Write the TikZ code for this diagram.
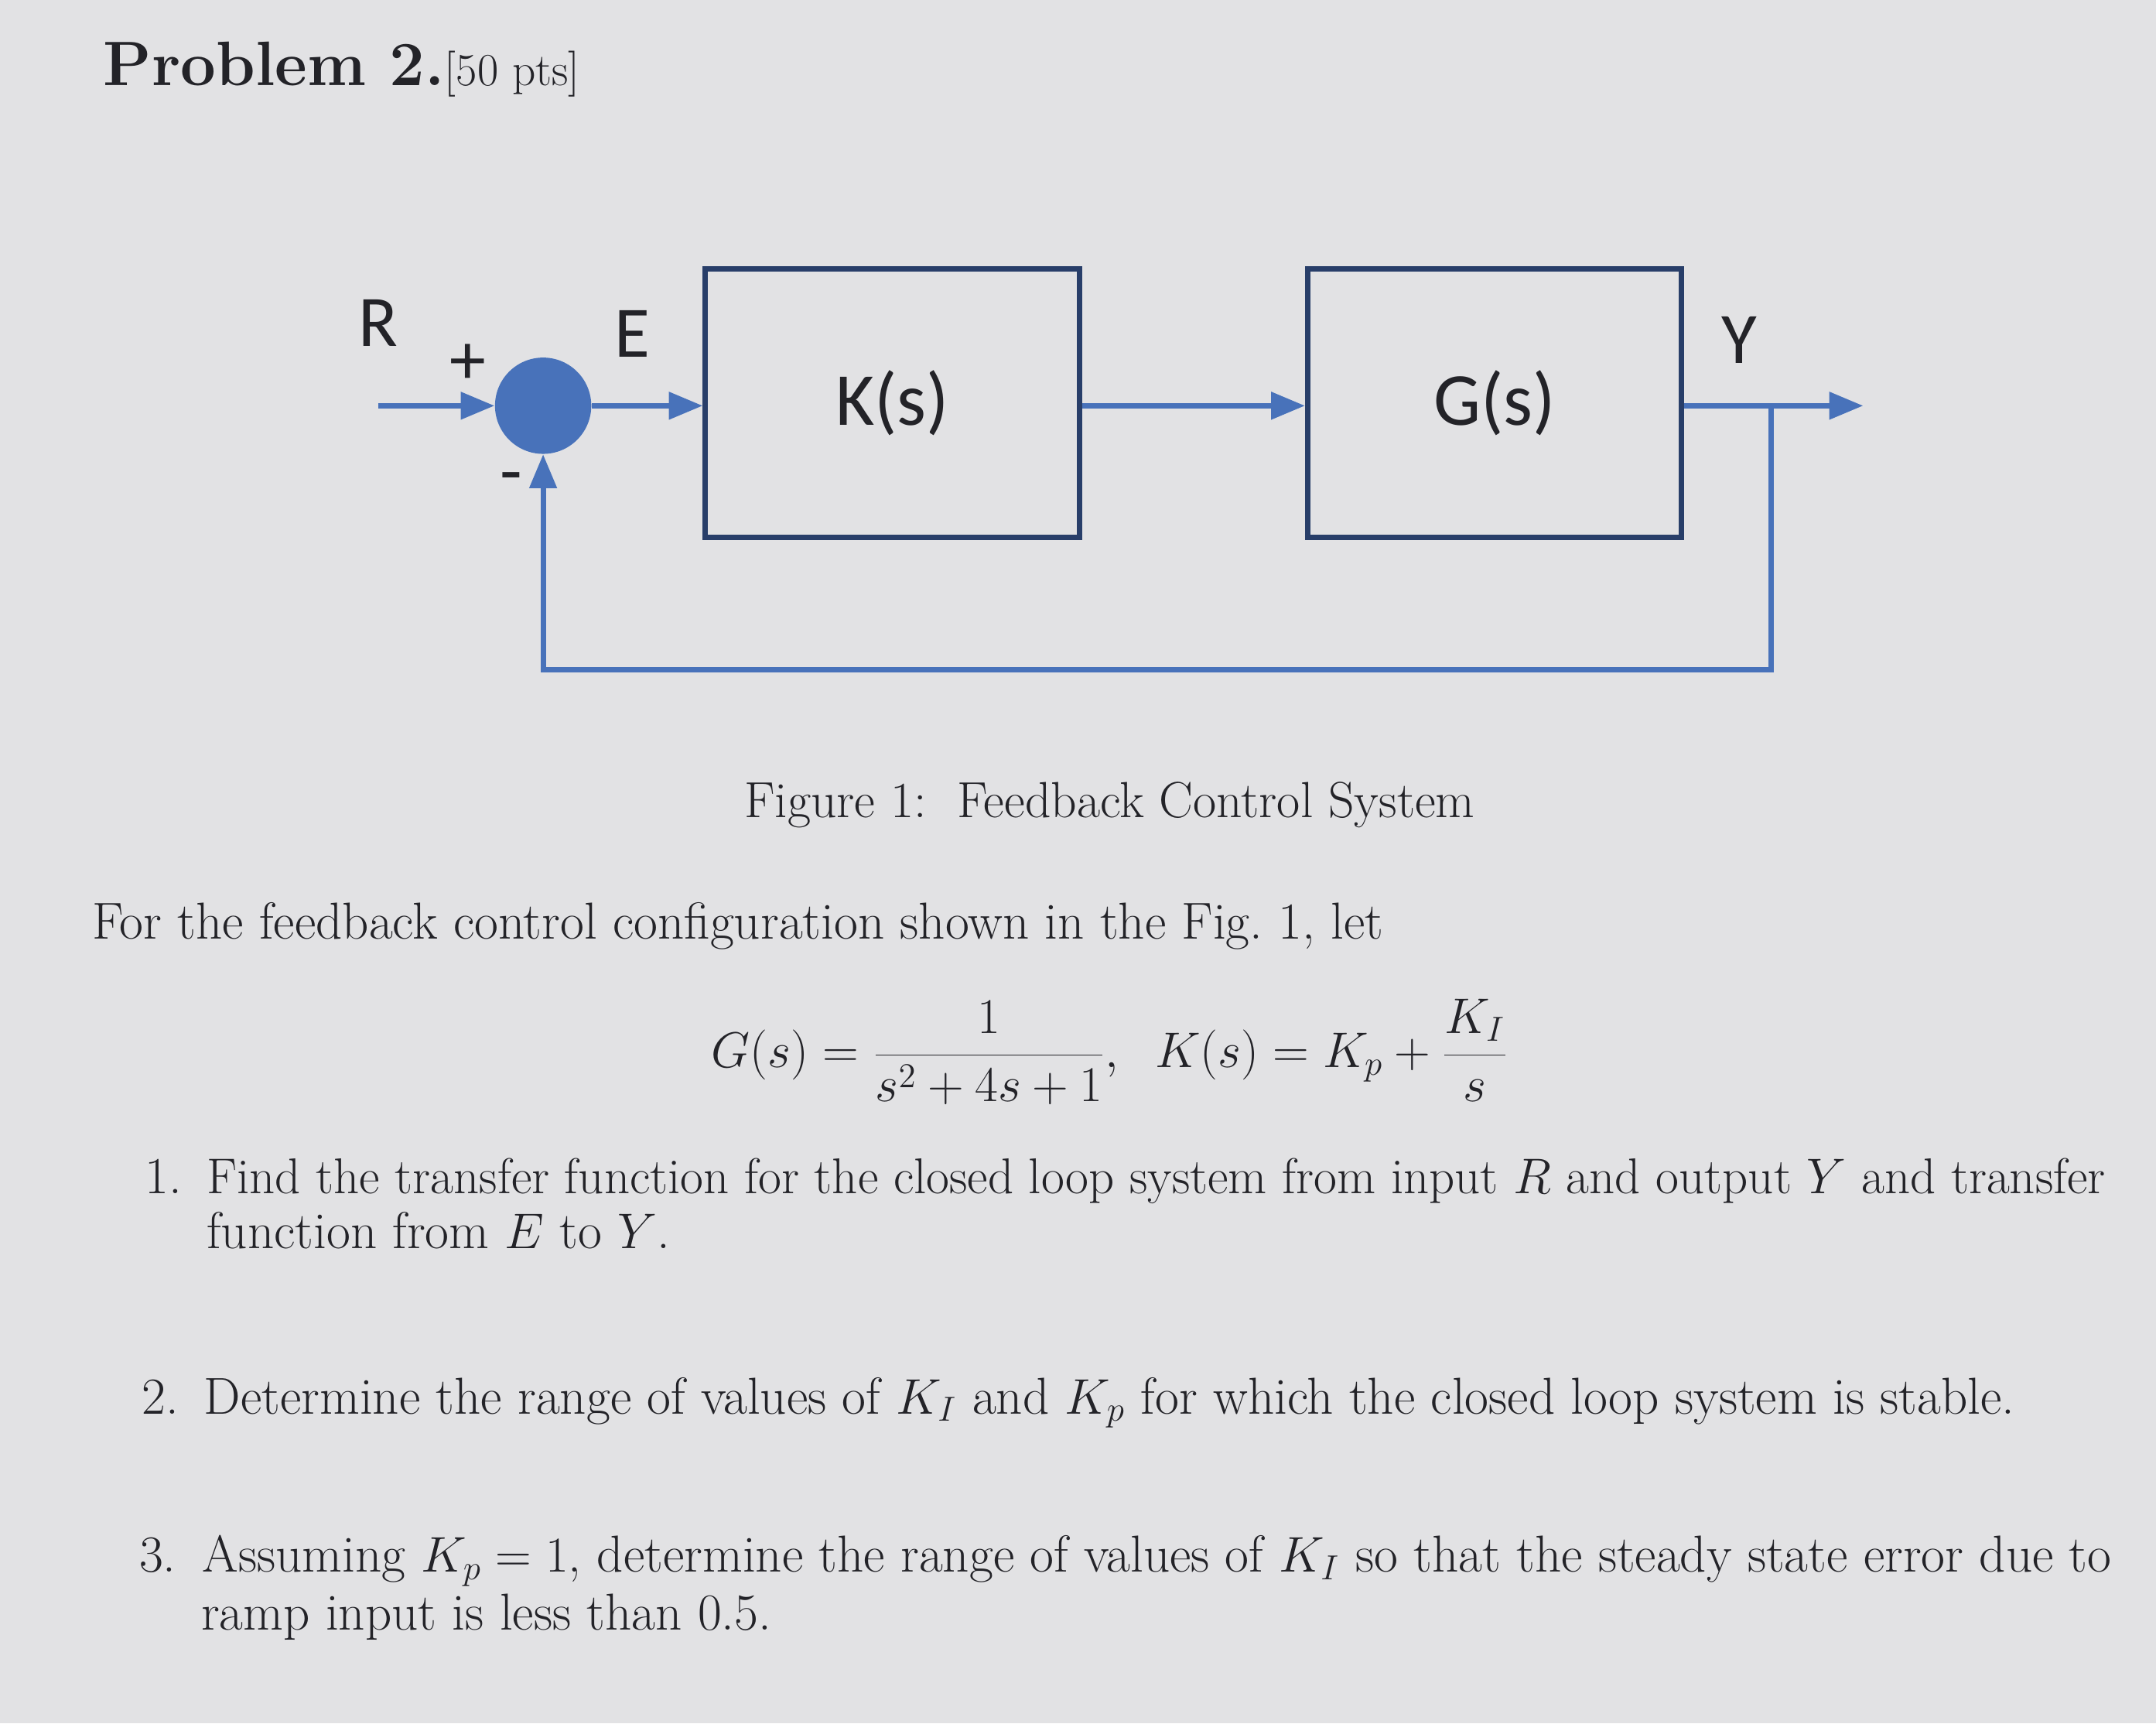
\documentclass[tikz,border=0pt]{standalone}
\usepackage{fontspec}
\newfontfamily\diag{Carlito}
\usetikzlibrary{arrows.meta}
\definecolor{paper}{RGB}{226,226,228}
\definecolor{lineblue}{RGB}{72,114,186}
\definecolor{boxc}{RGB}{40,62,105}
\definecolor{ink}{RGB}{35,35,40}
\begin{document}
\begin{tikzpicture}[x=0.02cm,y=-0.02cm,
  wire/.style={lineblue,line width=2.2pt},
  arr/.style={wire,-{Triangle[length=14pt,width=11pt]}},
  blk/.style={draw=boxc,line width=2.2pt,minimum width=272*0.02cm,minimum height=195*0.02cm,font=\diag\fontsize{31}{36}\selectfont,text=ink},
  lab/.style={font=\diag\fontsize{30}{34}\selectfont,text=ink},
  body/.style={font=\fontsize{21.5}{25}\selectfont,text=ink,anchor=base west,inner sep=0}]
\fill[paper] (0,0) rectangle (1568,1253);
\useasboundingbox (0,0) rectangle (1568,1253);
\node[anchor=base west,inner sep=0,text=ink] (title) at (75,62) {\fontsize{26}{30}\selectfont\bfseries Problem 2.\mdseries\fontsize{19}{22}\selectfont[50 pts]};
\coordinate (rin) at (275,295);
\node[circle,fill=lineblue,minimum size=70*0.02cm,inner sep=0] (sum) at (395,295) {};
\node[blk] (K) at (649,293) {K(s)};
\node[blk] (G) at (1087,293) {G(s)};
\coordinate (yout) at (1355,295);
\coordinate (tap) at (1288,295);
\coordinate (fr) at (1288,487);
\coordinate (fl) at (395,487);
\draw[arr] (rin) -- (sum);
\draw[arr] (sum) -- (K.west|-sum);
\draw[arr] (K.east|-sum) -- (G.west|-sum);
\draw[arr] (G.east|-sum) -- (yout);
\draw[arr] (tap) -- (fr) -- (fl) -- (sum);
\node[lab] (R) at (275,235) {R};
\node[lab] (plus) at (340,265) {+};
\node[lab] (minus) at (372,352) {-};
\node[lab] (E) at (460,243) {E};
\node[lab] (Y) at (1265,247) {Y};
\node[font=\fontsize{21}{25}\selectfont,text=ink] (cap) at (807,585) {Figure 1:\ \ Feedback Control System};
\node[body] (t1) at (67,683) {For the feedback control configuration shown in the Fig.\ 1, let};
\node[font=\fontsize{21.5}{25}\selectfont,text=ink] (eq) at (807,765) {$\displaystyle G(s)=\frac{1}{s^2+4s+1},\;\; K(s)=K_p+\frac{K_I}{s}$};
\node[body] (n1) at (105,868) {1.};
\node[body,font=\fontsize{20.8}{25}\selectfont] (i1a) at (150,868) {Find the transfer function for the closed loop system from input $R$ and output $Y$ and transfer};
\node[body] (i1b) at (150,908) {function from $E$ to $Y$.};
\node[body] (n2) at (103,1028) {2.};
\node[body] (i2) at (148,1028) {Determine the range of values of $K_I$ and $K_p$ for which the closed loop system is stable.};
\node[body] (n3) at (101,1143) {3.};
\node[body] (i3a) at (147,1143) {Assuming $K_p=1$, determine the range of values of $K_I$ so that the steady state error due to};
\node[body] (i3b) at (146,1185) {ramp input is less than 0.5.};
\end{tikzpicture}
\end{document}
